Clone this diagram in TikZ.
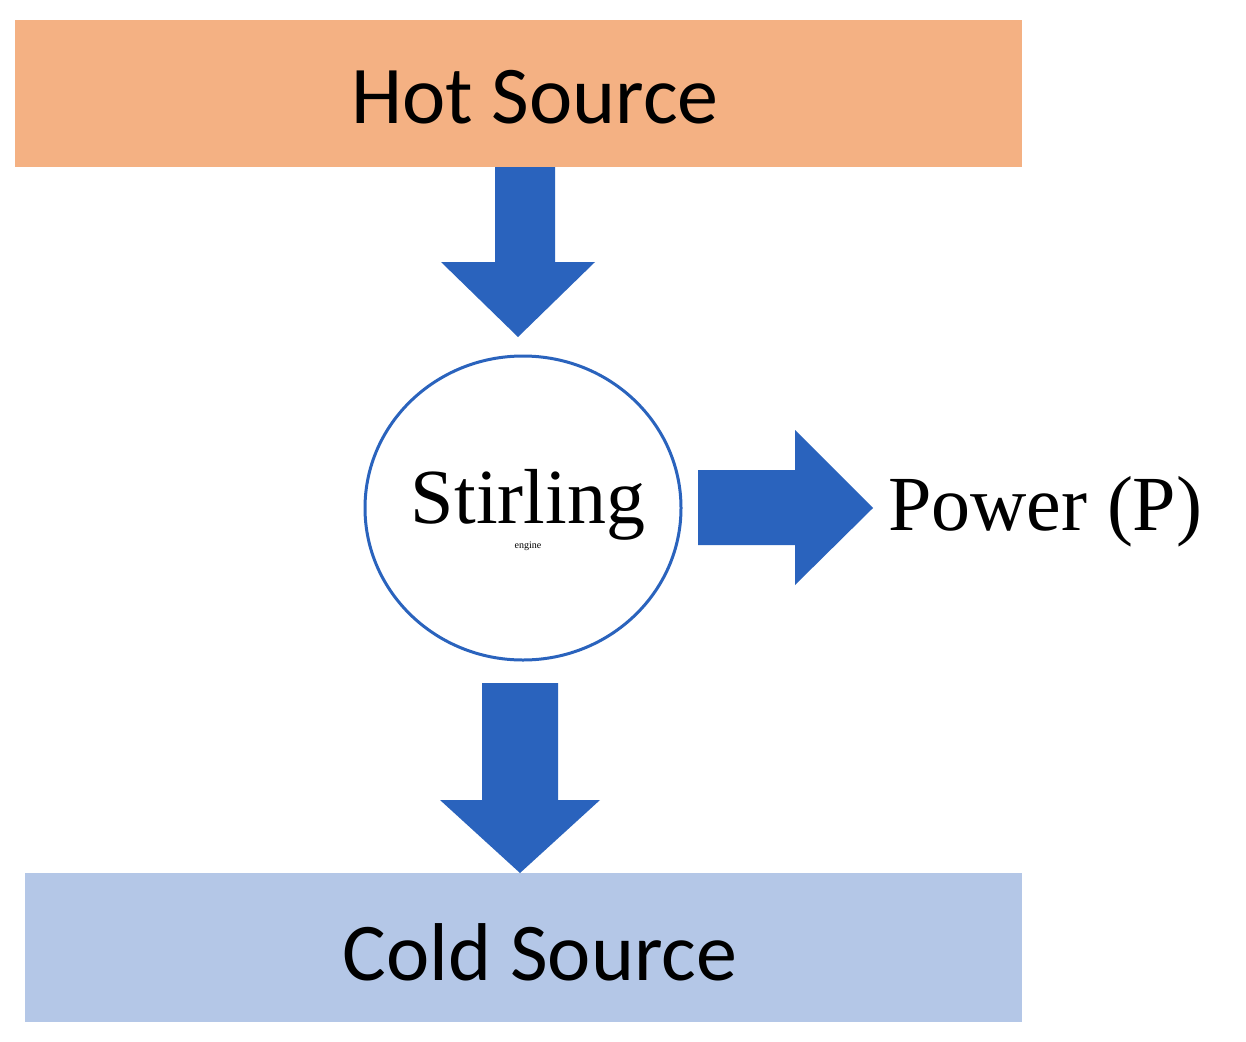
\documentclass[tikz,border=0pt]{standalone}
\usepackage{fontspec}
\usetikzlibrary{shapes.geometric}
\setmainfont{Liberation Serif}
\newfontfamily\carl{Carlito}
\definecolor{hot}{HTML}{F4B183}
\definecolor{cold}{HTML}{B4C7E7}
\definecolor{arr}{HTML}{2A63BD}
\begin{document}
\begin{tikzpicture}[x=1pt,y=-1pt,
  box/.style={inner sep=0pt,draw=none},
  bigarrow/.style={fill=arr,draw=none}]
\useasboundingbox (0,0) rectangle (1246,1041);
\fill[white] (0,0) rectangle (1246,1041);
\fill[hot] (15,20) rectangle (1022,167);
\node[box] (hot) at (535,97) {\carl\fontsize{82}{90}\selectfont Hot Source};
\fill[cold] (25,873) rectangle (1022,1022);
\node[box] (cold) at (540,952) {\carl\fontsize{82}{90}\selectfont Cold Source};
\node[draw=arr,line width=3pt,ellipse,minimum width=316pt,minimum height=304pt,inner sep=0pt] (eng) at (523,508) {};
\node[box,align=center] at (528,510) {\fontsize{78}{100}\selectfont Stirling\\ engine};
\node[box,anchor=west] (pow) at (888,512) {\fontsize{78}{90}\selectfont Power (P)};
\fill[bigarrow] (495,167) -- (555,167) -- (555,262) -- (595,262) -- (518,337) -- (441,262) -- (495,262) -- cycle;
\fill[bigarrow] (698,470) -- (795,470) -- (795,430) -- (873,508) -- (795,585) -- (795,545) -- (698,545) -- cycle;
\fill[bigarrow] (482,683) -- (558,683) -- (558,800) -- (600,800) -- (520,873) -- (440,800) -- (482,800) -- cycle;
\end{tikzpicture}
\end{document}
